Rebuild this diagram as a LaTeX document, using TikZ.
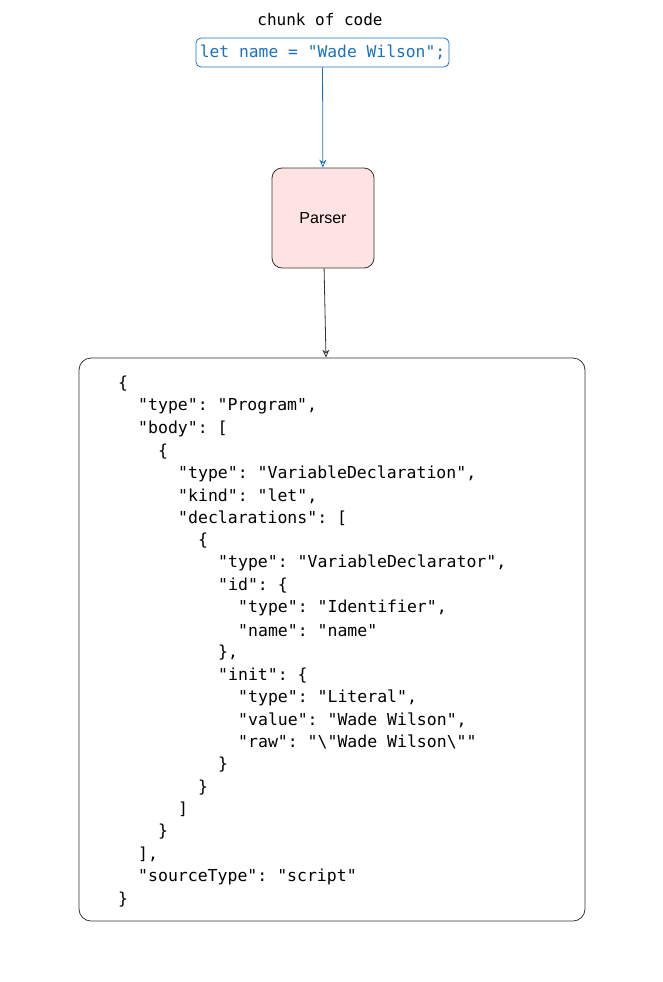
\documentclass[tikz,border=0pt]{standalone}
\usepackage{fontspec}
\setmainfont{Liberation Sans}
\setmonofont{DejaVu Sans Mono}
\definecolor{codeblue}{HTML}{1971C2}
\definecolor{parserpink}{HTML}{FFE3E3}
\tikzset{
  codebox/.style={draw=codeblue, line width=0.8pt, rounded corners=5pt, text=codeblue, font=\ttfamily\fontsize{16.3}{19}\selectfont, minimum width=253pt, minimum height=29pt, inner sep=0pt},
  parserbox/.style={draw=black!80, line width=0.8pt, fill=parserpink, rounded corners=10pt, minimum width=102pt, minimum height=100pt, font=\fontsize{16}{19}\selectfont},
  jsonbox/.style={draw=black!80, line width=0.8pt, rounded corners=12pt, minimum width=506pt, minimum height=563pt},
  jsonline/.style={anchor=west, inner sep=0pt, font=\ttfamily\fontsize{16.5}{20}\selectfont},
  flow/.style={->, >={Stealth[open,length=8pt,width=7pt]}, line width=0.8pt}
}
\usetikzlibrary{arrows.meta}
\begin{document}
\begin{tikzpicture}[x=1pt,y=-1pt]
  \useasboundingbox (0,0) rectangle (662,982);
  \node[font=\ttfamily\fontsize{16}{19}\selectfont] (title) at (320,20) {chunk of code};
  \node[codebox] (code) at (322.5,52.5) {let name = "Wade Wilson";};
  \node[parserbox] (parser) at (323,218) {Parser};
  \node[jsonbox] (ast) at (332,639.5) {};
  \draw[flow, codeblue] (code) -- (parser);
  \draw[flow, black!80] (parser) -- (ast);
  % AST lines
  \foreach \ind/\txt [count=\i] in {
    0/{\{},
    1/{"type": "Program",},
    1/{"body": [},
    2/{\{},
    3/{"type": "VariableDeclaration",},
    3/{"kind": "let",},
    3/{"declarations": [},
    4/{\{},
    5/{"type": "VariableDeclarator",},
    5/{"id": \{},
    6/{"type": "Identifier",},
    6/{"name": "name"},
    5/{\},},
    5/{"init": \{},
    6/{"type": "Literal",},
    6/{"value": "Wade Wilson",},
    6/{"raw": "\textbackslash"Wade Wilson\textbackslash""},
    5/{\}},
    4/{\}},
    3/{]},
    2/{\}},
    1/{],},
    1/{"sourceType": "script"},
    0/{\}}}
    \node[jsonline] (l\i) at (118+20*\ind, 361.6+22.4*\i) {\txt};
\end{tikzpicture}
\end{document}
